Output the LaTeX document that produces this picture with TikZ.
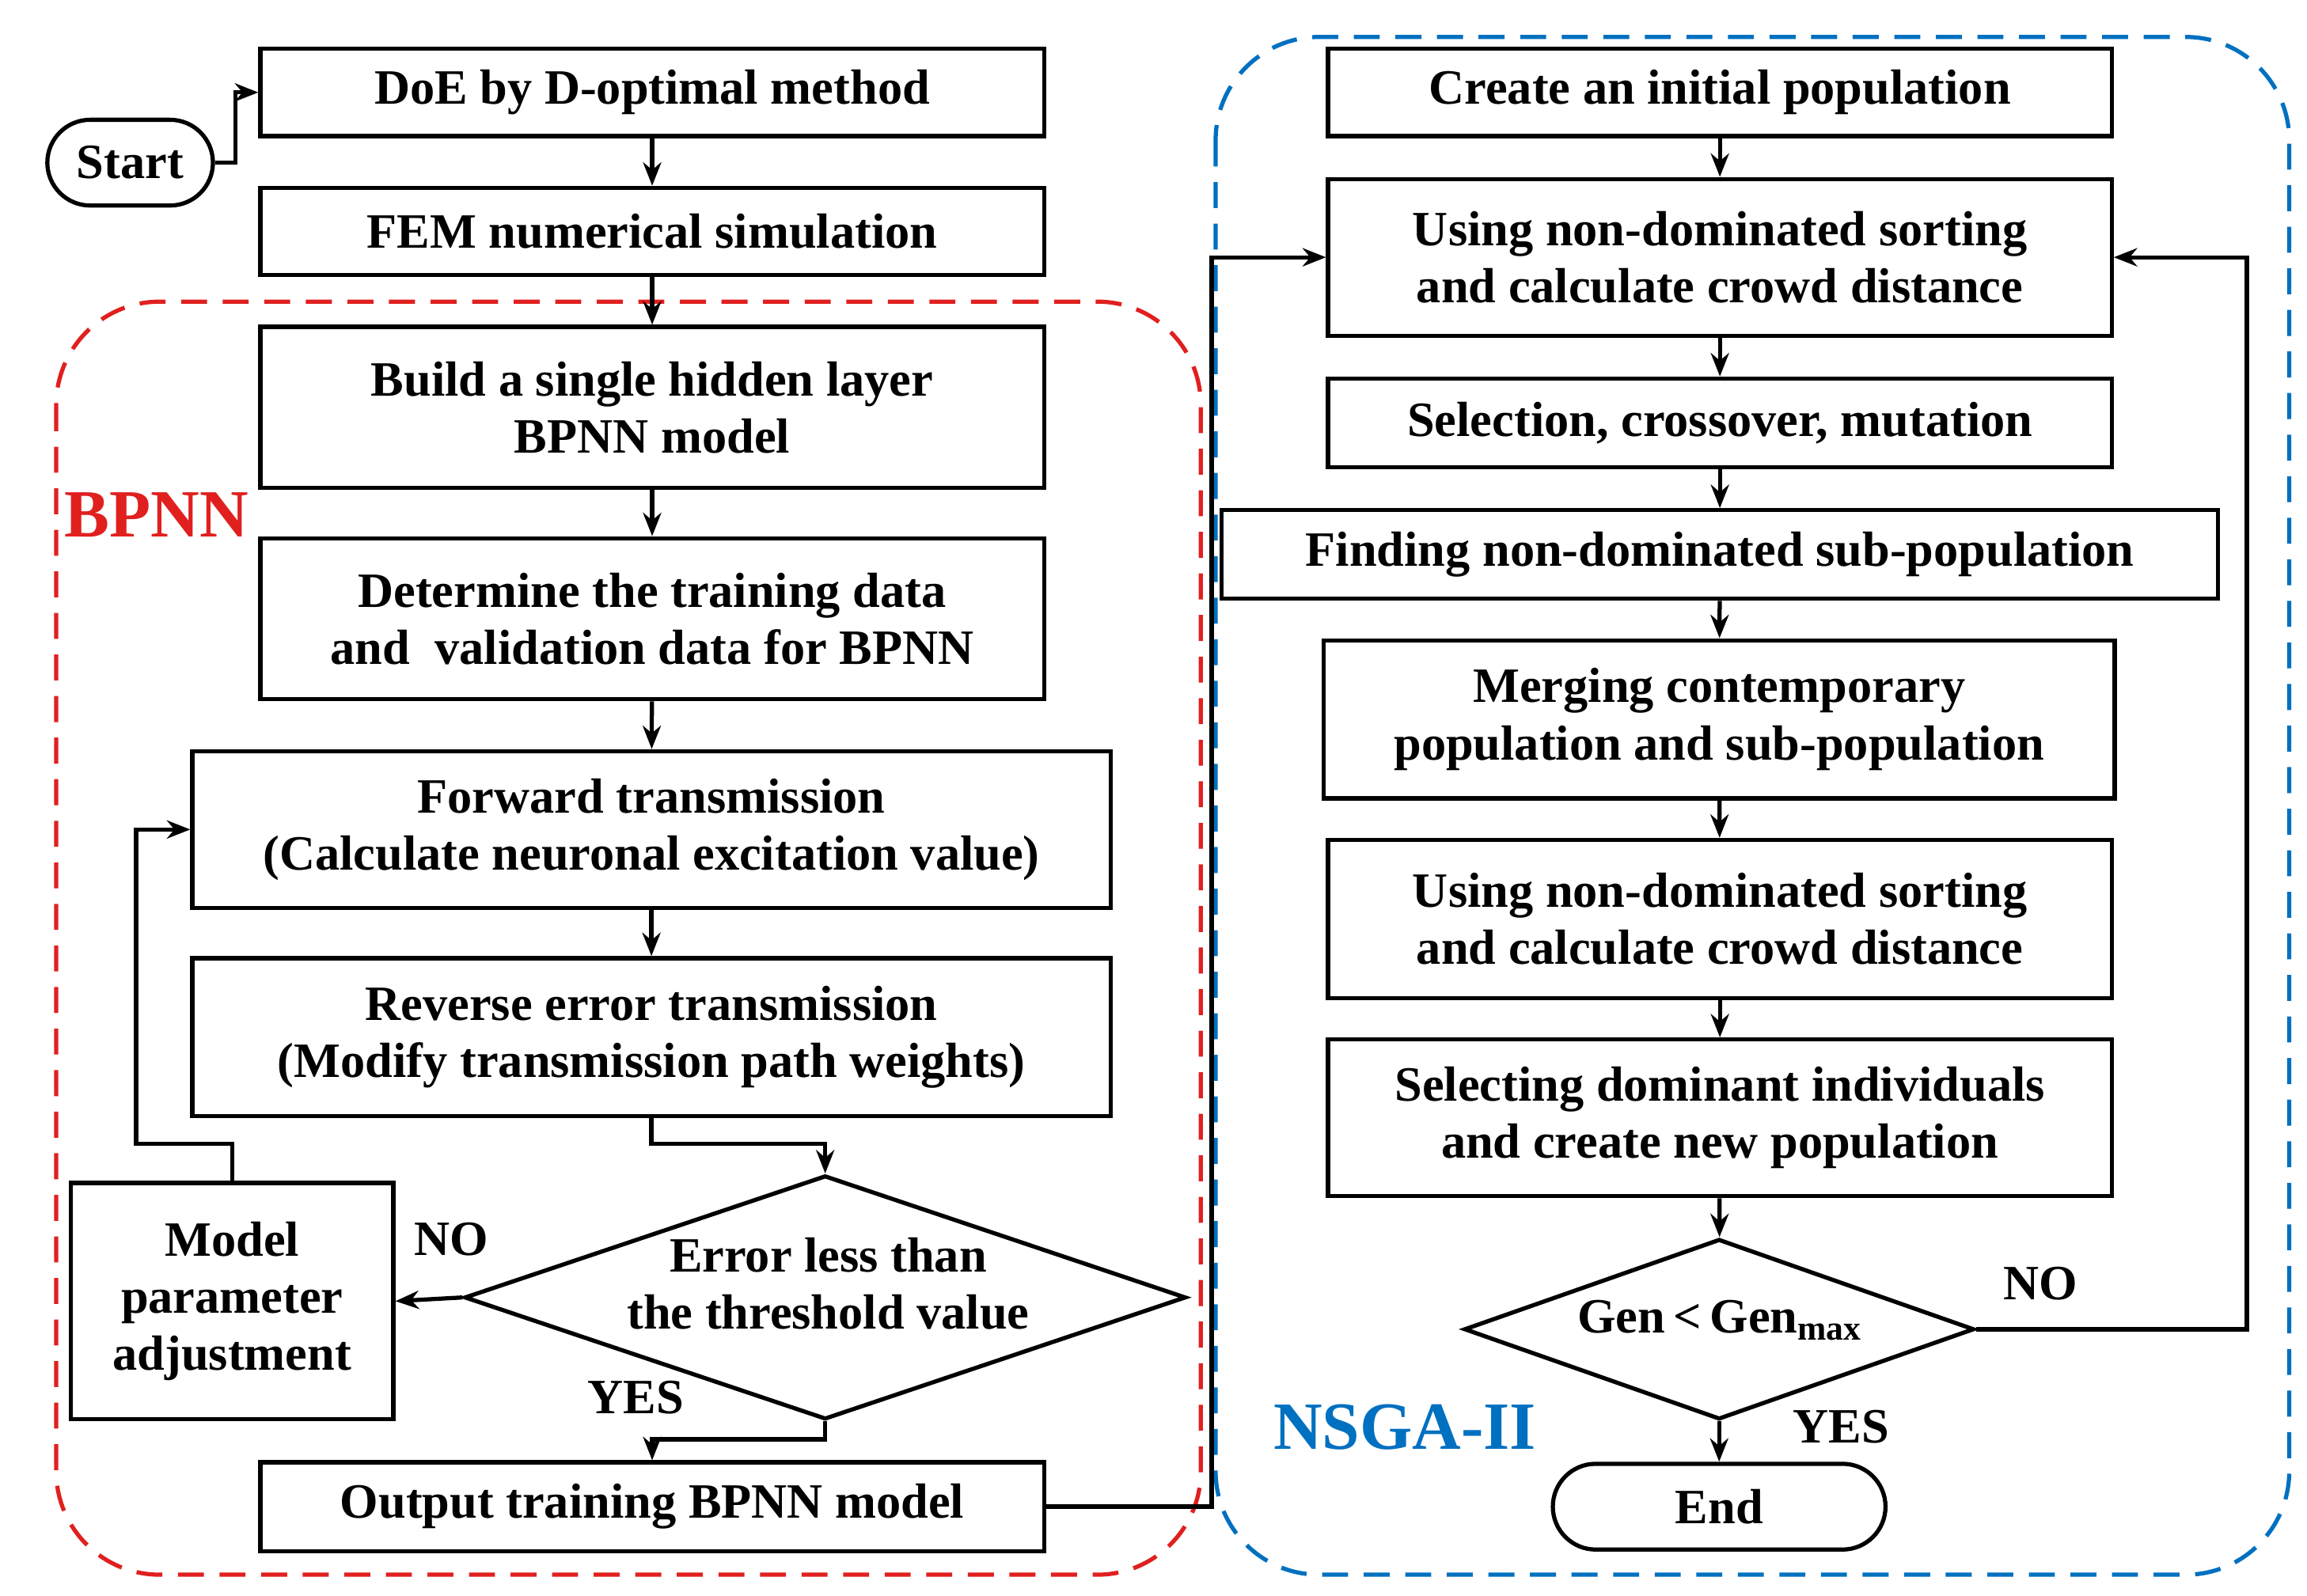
\documentclass[tikz,border=0pt]{standalone}
\usepackage{fontspec}
\setmainfont{Liberation Serif}
\usetikzlibrary{shapes.geometric,arrows.meta}
\definecolor{myred}{HTML}{E0201F}
\definecolor{myblue}{HTML}{0070C0}
\begin{document}
\begin{tikzpicture}[x=0.02cm,y=-0.02cm,
  every node/.style={font=\fontsize{19}{22}\selectfont\bfseries, align=center, inner sep=0pt},
  box/.style={draw, line width=1.6pt},
  dia/.style={draw, diamond, line width=1.6pt, inner sep=0pt},
  ln/.style={line width=1.6pt},
  ar/.style={line width=1.6pt, -{Stealth[length=9pt,width=7pt]}}]
\useasboundingbox (0,0) rectangle (1560,1079);
\draw[myred, dashed, line width=1.6pt, dash pattern=on 10pt off 6pt, rounded corners=1.4cm] (38,204) rectangle (812,1065);
\draw[myblue, dashed, line width=1.6pt, dash pattern=on 10pt off 6pt, rounded corners=1.4cm] (822,25) rectangle (1548,1065);
\node[box, rounded corners=0.58cm, minimum width=2.24cm, minimum height=1.16cm] (start) at (88,110) {Start};
\node[box, minimum width=10.6cm, minimum height=1.18cm] (doe) at (441,62.5) {DoE by D-optimal method};
\node[box, minimum width=10.6cm, minimum height=1.18cm] (fem) at (441,156.5) {FEM numerical simulation};
\node[box, minimum width=10.6cm, minimum height=2.18cm] (build) at (441,275.5) {Build a single hidden layer\\BPNN model};
\node[box, minimum width=10.6cm, minimum height=2.18cm] (det) at (441,418.5) {Determine the training data\\and\ \ validation data for BPNN};
\node[box, minimum width=12.42cm, minimum height=2.12cm] (fwd) at (440.5,561) {Forward transmission\\(Calculate neuronal excitation value)};
\node[box, minimum width=12.42cm, minimum height=2.14cm] (rev) at (440.5,701.5) {Reverse error transmission\\(Modify transmission path weights)};
\node[dia, minimum width=9.76cm, minimum height=3.3cm] (err) at (558,877.5) {};
\node at (560,868) {Error less than\\the threshold value};
\node[box, minimum width=4.36cm, minimum height=3.2cm] (mod) at (157,880) {Model\\parameter\\adjustment};
\node[box, minimum width=10.6cm, minimum height=1.2cm] (out) at (441,1019) {Output training BPNN model};
\node[text=myred, font=\fontsize{26}{30}\selectfont\bfseries] (bpnn) at (106,348) {BPNN};
\node (no1) at (305,838) {NO};
\node (yes1) at (430,945) {YES};

\node[box, minimum width=10.6cm, minimum height=1.18cm] (cre) at (1163,62.5) {Create an initial population};
\node[box, minimum width=10.6cm, minimum height=2.12cm] (us1) at (1163,174) {Using non-dominated sorting\\and calculate crowd distance};
\node[box, minimum width=10.6cm, minimum height=1.2cm] (sel) at (1163,286) {Selection, crossover, mutation};
\node[box, minimum width=13.48cm, minimum height=1.2cm] (fin) at (1163,375) {Finding non-dominated sub-population};
\node[box, minimum width=10.7cm, minimum height=2.14cm] (mer) at (1162.5,486.5) {Merging contemporary\\population and sub-population};
\node[box, minimum width=10.6cm, minimum height=2.14cm] (us2) at (1163,621.5) {Using non-dominated sorting\\and calculate crowd distance};
\node[box, minimum width=10.6cm, minimum height=2.12cm] (sls) at (1163,756) {Selecting dominant individuals\\and create new population};
\node[dia, minimum width=6.9cm, minimum height=2.44cm] (gen) at (1162.5,899) {};
\node at (1163,893) {Gen\,<\,Gen\textsubscript{max}};
\node[box, rounded corners=0.58cm, minimum width=4.5cm, minimum height=1.16cm] (end) at (1162.5,1019) {End};
\node[text=myblue, font=\fontsize{26}{30}\selectfont\bfseries] (nsga) at (950,965) {NSGA-II};
\node (no2) at (1380,868) {NO};
\node (yes2) at (1245,965) {YES};

\draw[ar] (start.east) -- ++(14,0) |- (doe.west);
\draw[ar] (doe) -- (fem);
\draw[ar] (fem) -- (build);
\draw[ar] (build) -- (det);
\draw[ar] (det) -- (fwd);
\draw[ar] (fwd) -- (rev);
\draw[ar] (rev.south) -- ++(0,17) -| (err.north);
\draw[ar] (err.west) -- (mod.east);
\draw[ar] (mod.north) -- ++(0,-25) -- ++(-65,0) |- (fwd.west);
\draw[ar] (err.south) -- ++(0,12) -| (out.north);
\draw[ar] (out.east) -- ++(112,0) |- (us1.west);
\draw[ar] (cre) -- (us1);
\draw[ar] (us1) -- (sel);
\draw[ar] (sel) -- (fin);
\draw[ar] (fin) -- (mer);
\draw[ar] (mer) -- (us2);
\draw[ar] (us2) -- (sls);
\draw[ar] (sls) -- (gen);
\draw[ar] (gen) -- (end);
\draw[ar] (gen.east) -- ++(183,0) |- (us1.east);
\end{tikzpicture}
\end{document}
